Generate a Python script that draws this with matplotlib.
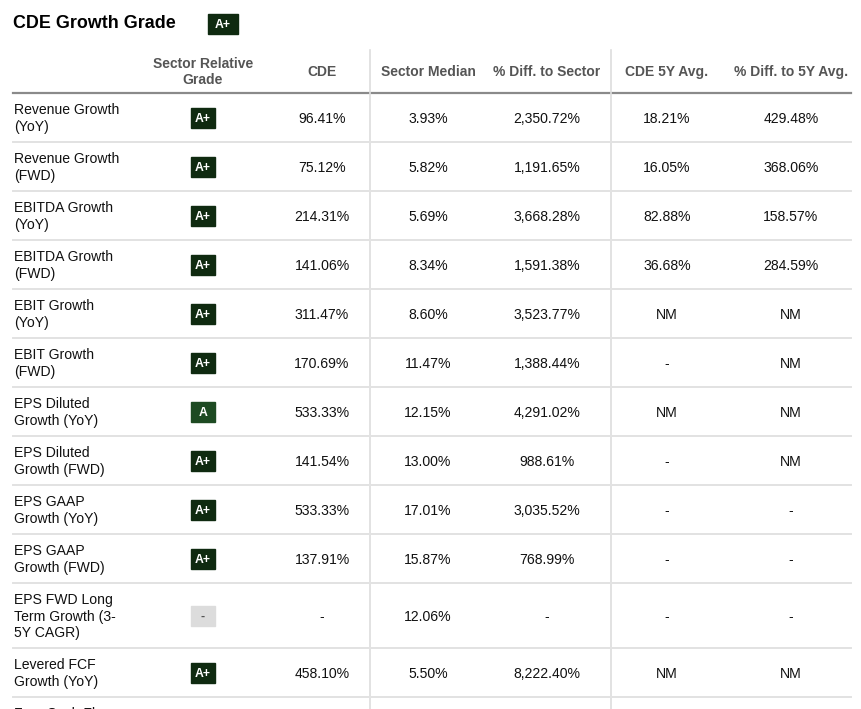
import matplotlib.pyplot as plt
from matplotlib.patches import Rectangle

plt.rcParams['font.family'] = ['Liberation Sans', 'DejaVu Sans']

TITLE = 'CDE Growth Grade'
OVERALL_GRADE = 'A+'

headers = ['Sector Relative\nGrade', 'CDE', 'Sector Median', '% Diff. to Sector',
           'CDE 5Y Avg.', '% Diff. to 5Y Avg.']

metrics = ['Revenue Growth\n(YoY)', 'Revenue Growth\n(FWD)', 'EBITDA Growth\n(YoY)',
           'EBITDA Growth\n(FWD)', 'EBIT Growth\n(YoY)', 'EBIT Growth\n(FWD)',
           'EPS Diluted\nGrowth (YoY)', 'EPS Diluted\nGrowth (FWD)', 'EPS GAAP\nGrowth (YoY)',
           'EPS GAAP\nGrowth (FWD)', 'EPS FWD Long\nTerm Growth (3-\n5Y CAGR)',
           'Levered FCF\nGrowth (YoY)', 'Free Cash Flow\nGrowth (YoY)']
grades = ['A+', 'A+', 'A+', 'A+', 'A+', 'A+', 'A', 'A+', 'A+', 'A+', '-', 'A+', '']
cde = ['96.41%', '75.12%', '214.31%', '141.06%', '311.47%', '170.69%', '533.33%',
       '141.54%', '533.33%', '137.91%', '-', '458.10%', '']
sector_median = ['3.93%', '5.82%', '5.69%', '8.34%', '8.60%', '11.47%', '12.15%',
                 '13.00%', '17.01%', '15.87%', '12.06%', '5.50%', '']
diff_sector = ['2,350.72%', '1,191.65%', '3,668.28%', '1,591.38%', '3,523.77%',
               '1,388.44%', '4,291.02%', '988.61%', '3,035.52%', '768.99%', '-',
               '8,222.40%', '']
cde_5y = ['18.21%', '16.05%', '82.88%', '36.68%', 'NM', '-', 'NM', '-', '-', '-', '-',
          'NM', '']
diff_5y = ['429.48%', '368.06%', '158.57%', '284.59%', 'NM', 'NM', 'NM', 'NM', '-', '-',
           '-', 'NM', '']

grade_colors = {'A+': '#0f2a10', 'A': '#1d4a22', '-': '#dcdcdc'}

W, H = 861, 709
fig = plt.figure(figsize=(W / 100, H / 100), dpi=100)
ax = fig.add_axes([0, 0, 1, 1])
ax.set_xlim(0, W)
ax.set_ylim(H, 0)
ax.axis('off')

left, right = 13, 851
col_x = [203, 322, 428, 547, 667, 791]
vlines = [370, 611]
header_bottom = 93
row_h = [49] * len(metrics)
row_h[10] = 65

txt = 10.1
# title and overall badge
ax.text(left, 23, TITLE, fontsize=12.9, fontweight='bold', va='center', ha='left', color='#000')
ax.add_patch(Rectangle((208, 14), 30, 20, color=grade_colors[OVERALL_GRADE]))
ax.text(223, 24.5, OVERALL_GRADE, fontsize=8.8, color='white', ha='center', va='center',
        fontweight='bold')

# header
for x, h in zip(col_x, headers):
    ax.text(x, 72, h, fontsize=10, fontweight='bold', color='#555555', ha='center',
            va='center', linespacing=1.15)
ax.plot([left, right], [header_bottom, header_bottom], color='#8a8a8a', lw=1.6)
for vx in vlines:
    ax.plot([vx, vx], [50, H], color='#dddddd', lw=1.2)

y = header_bottom
for i, m in enumerate(metrics):
    yc = y + row_h[i] / 2
    ax.text(14, yc + 1, m, fontsize=txt, ha='left', va='center', color='#111',
            linespacing=1.25, clip_on=True)
    g = grades[i]
    if g:
        ax.add_patch(Rectangle((col_x[0] - 12, yc - 10), 24, 20, color=grade_colors[g]))
        ax.text(col_x[0], yc + 1.5, g, fontsize=8.8, ha='center', va='center',
                fontweight='bold', color='#555' if g == '-' else 'white')
    for x, vals in zip(col_x[1:], [cde, sector_median, diff_sector, cde_5y, diff_5y]):
        ax.text(x, yc + 1.5, vals[i], fontsize=txt, ha='center', va='center', color='#111',
                clip_on=True)
    y += row_h[i]
    ax.plot([left, right], [y, y], color='#e2e2e2', lw=1.4)

fig.savefig('out.png', dpi=100, facecolor='white')
